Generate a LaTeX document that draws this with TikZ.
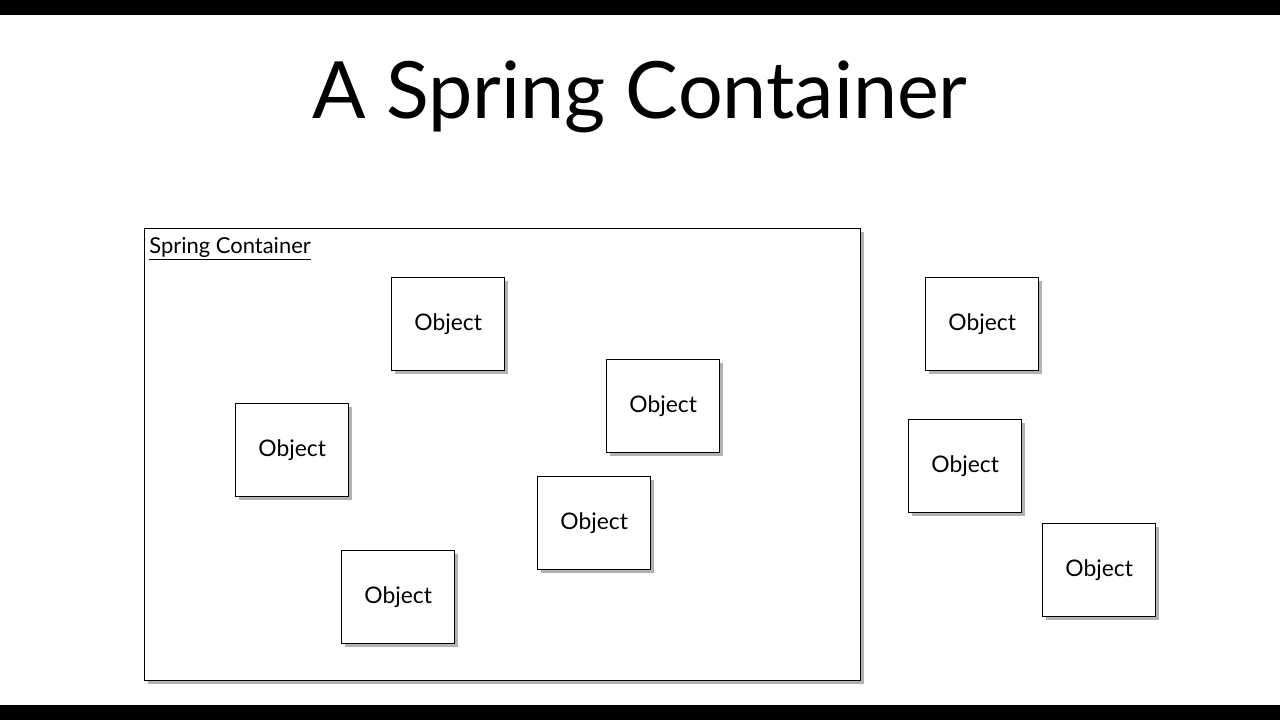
\documentclass[tikz,border=0pt]{standalone}
\usepackage{fontspec}
\setmainfont{Lato}
\usetikzlibrary{shadows}
\newcommand{\px}{0.02cm}

\begin{document}
\begin{tikzpicture}[x=\px, y=-\px,
    obj/.style={draw, thick, fill=white, rectangle, anchor=north west, minimum width=113*\px, minimum height=93*\px, inner sep=0pt, font=\fontsize{13}{15}\selectfont, drop shadow={shadow xshift=0.07cm, shadow yshift=-0.07cm, opacity=0.6}},
    bar/.style={fill=black, draw=none}]
    % Frame and bars
    \useasboundingbox (0,0) rectangle (1280,720);
    \fill[white] (0,0) rectangle (1280,720);
    \fill[bar] (0,0) rectangle (1280,15);
    \fill[bar] (0,705) rectangle (1280,720);

    % Title
    \node[font=\fontsize{45}{54}\selectfont] (title) at (640,97) {A Spring Container};

    % Container
    \node[draw, thick, fill=white, rectangle, anchor=north west, minimum width=716*\px, minimum height=452*\px, inner sep=0pt, drop shadow={shadow xshift=0.07cm, shadow yshift=-0.07cm, opacity=0.6}] (container) at (144,228) {};
    \node[anchor=north west, inner sep=0pt, font=\fontsize{12.5}{15}\selectfont] (label) at (149,237) {\underline{Spring Container}};

    % Objects inside
    \node[obj] (obj-1) at (391,277) {Object};
    \node[obj] (obj-2) at (606,359) {Object};
    \node[obj] (obj-3) at (235,403) {Object};
    \node[obj] (obj-4) at (537,476) {Object};
    \node[obj] (obj-5) at (341,550) {Object};

    % Objects outside
    \node[obj] (obj-6) at (925,277) {Object};
    \node[obj] (obj-7) at (908,419) {Object};
    \node[obj] (obj-8) at (1042,523) {Object};
\end{tikzpicture}
\end{document}
